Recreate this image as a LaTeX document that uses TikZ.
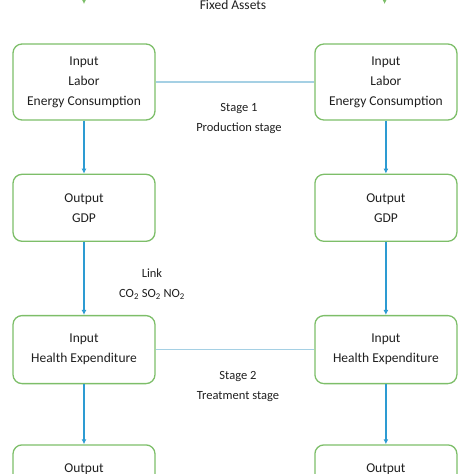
\documentclass[tikz,border=0pt]{standalone}
\usepackage{fontspec}
\setmainfont{Carlito}
\usetikzlibrary{positioning}
\usetikzlibrary{arrows.meta}
\definecolor{boxgreen}{RGB}{125,190,105}
\definecolor{flowblue}{RGB}{45,155,210}
\definecolor{linkblue}{RGB}{165,208,228}

\begin{document}
\begin{tikzpicture}[x=1pt, y=-1pt,
    box/.style={draw=boxgreen, line width=1.3pt, rounded corners=9pt, minimum width=142pt, align=center, text=black!88, font=\fontsize{13.5}{20}\selectfont},
    flow/.style={draw=flowblue, line width=1.4pt, -{Latex[length=5pt,width=5pt]}},
    lab/.style={align=center, text=black!88, font=\fontsize{12.5}{20}\selectfont}]
        \useasboundingbox (0,0) rectangle (474,474);
        % nodes (left column)
        \node[box, minimum height=76pt] (In1) at (84,82) {Input\\Labor\\Energy Consumption};
        \node[box, minimum height=67pt, below=53pt of In1] (Out1) {Output\\GDP};
        \node[box, minimum height=68pt, below=73pt of Out1] (In3) {Input\\Health Expenditure};
        \node[box, minimum height=67pt, below=60pt of In3] (Out3) {Output\\~};
        % nodes (right column)
        \node[box, minimum height=76pt, right=158.6pt of In1] (In2) {Input\\Labor\\Energy Consumption};
        \node[box, minimum height=67pt, below=53pt of In2] (Out2) {Output\\GDP};
        \node[box, minimum height=68pt, below=73pt of Out2] (In4) {Input\\Health Expenditure};
        \node[box, minimum height=67pt, below=60pt of In4] (Out4) {Output\\~};
        % fixed assets (from above)
        \node[lab, font=\fontsize{13.5}{20}\selectfont] (FA) at (233,5) {Fixed Assets};
        \coordinate (FA1t) at (84,-8);
        \coordinate (FA1) at (84,4);
        \coordinate (FA2t) at (384.6,-8);
        \coordinate (FA2) at (384.6,4);

        % edges
        \draw[boxgreen, line width=1.3pt, -{Latex[length=4pt,width=4pt]}] (FA1t) -- (FA1);
        \draw[boxgreen, line width=1.3pt, -{Latex[length=4pt,width=4pt]}] (FA2t) -- (FA2);
        \draw[flow] (In1) -- (Out1);
        \draw[flow] (Out1) -- node[lab, xshift=68pt, yshift=-6pt] (Lk) {Link\\CO\textsubscript{2} SO\textsubscript{2} NO\textsubscript{2}} (In3);
        \draw[flow] (In3) -- (Out3);
        \draw[flow] (In2) -- (Out2);
        \draw[flow] (Out2) -- (In4);
        \draw[flow] (In4) -- (Out4);
        \draw[linkblue, line width=1.3pt] (In1) -- node[lab, xshift=4pt, yshift=-37pt] (St1) {Stage 1\\Production stage} (In2);
        \draw[linkblue, line width=1.3pt] (In3) -- node[lab, xshift=3pt, yshift=-37pt] (St2) {Stage 2\\Treatment stage} (In4);
\end{tikzpicture}
\end{document}
